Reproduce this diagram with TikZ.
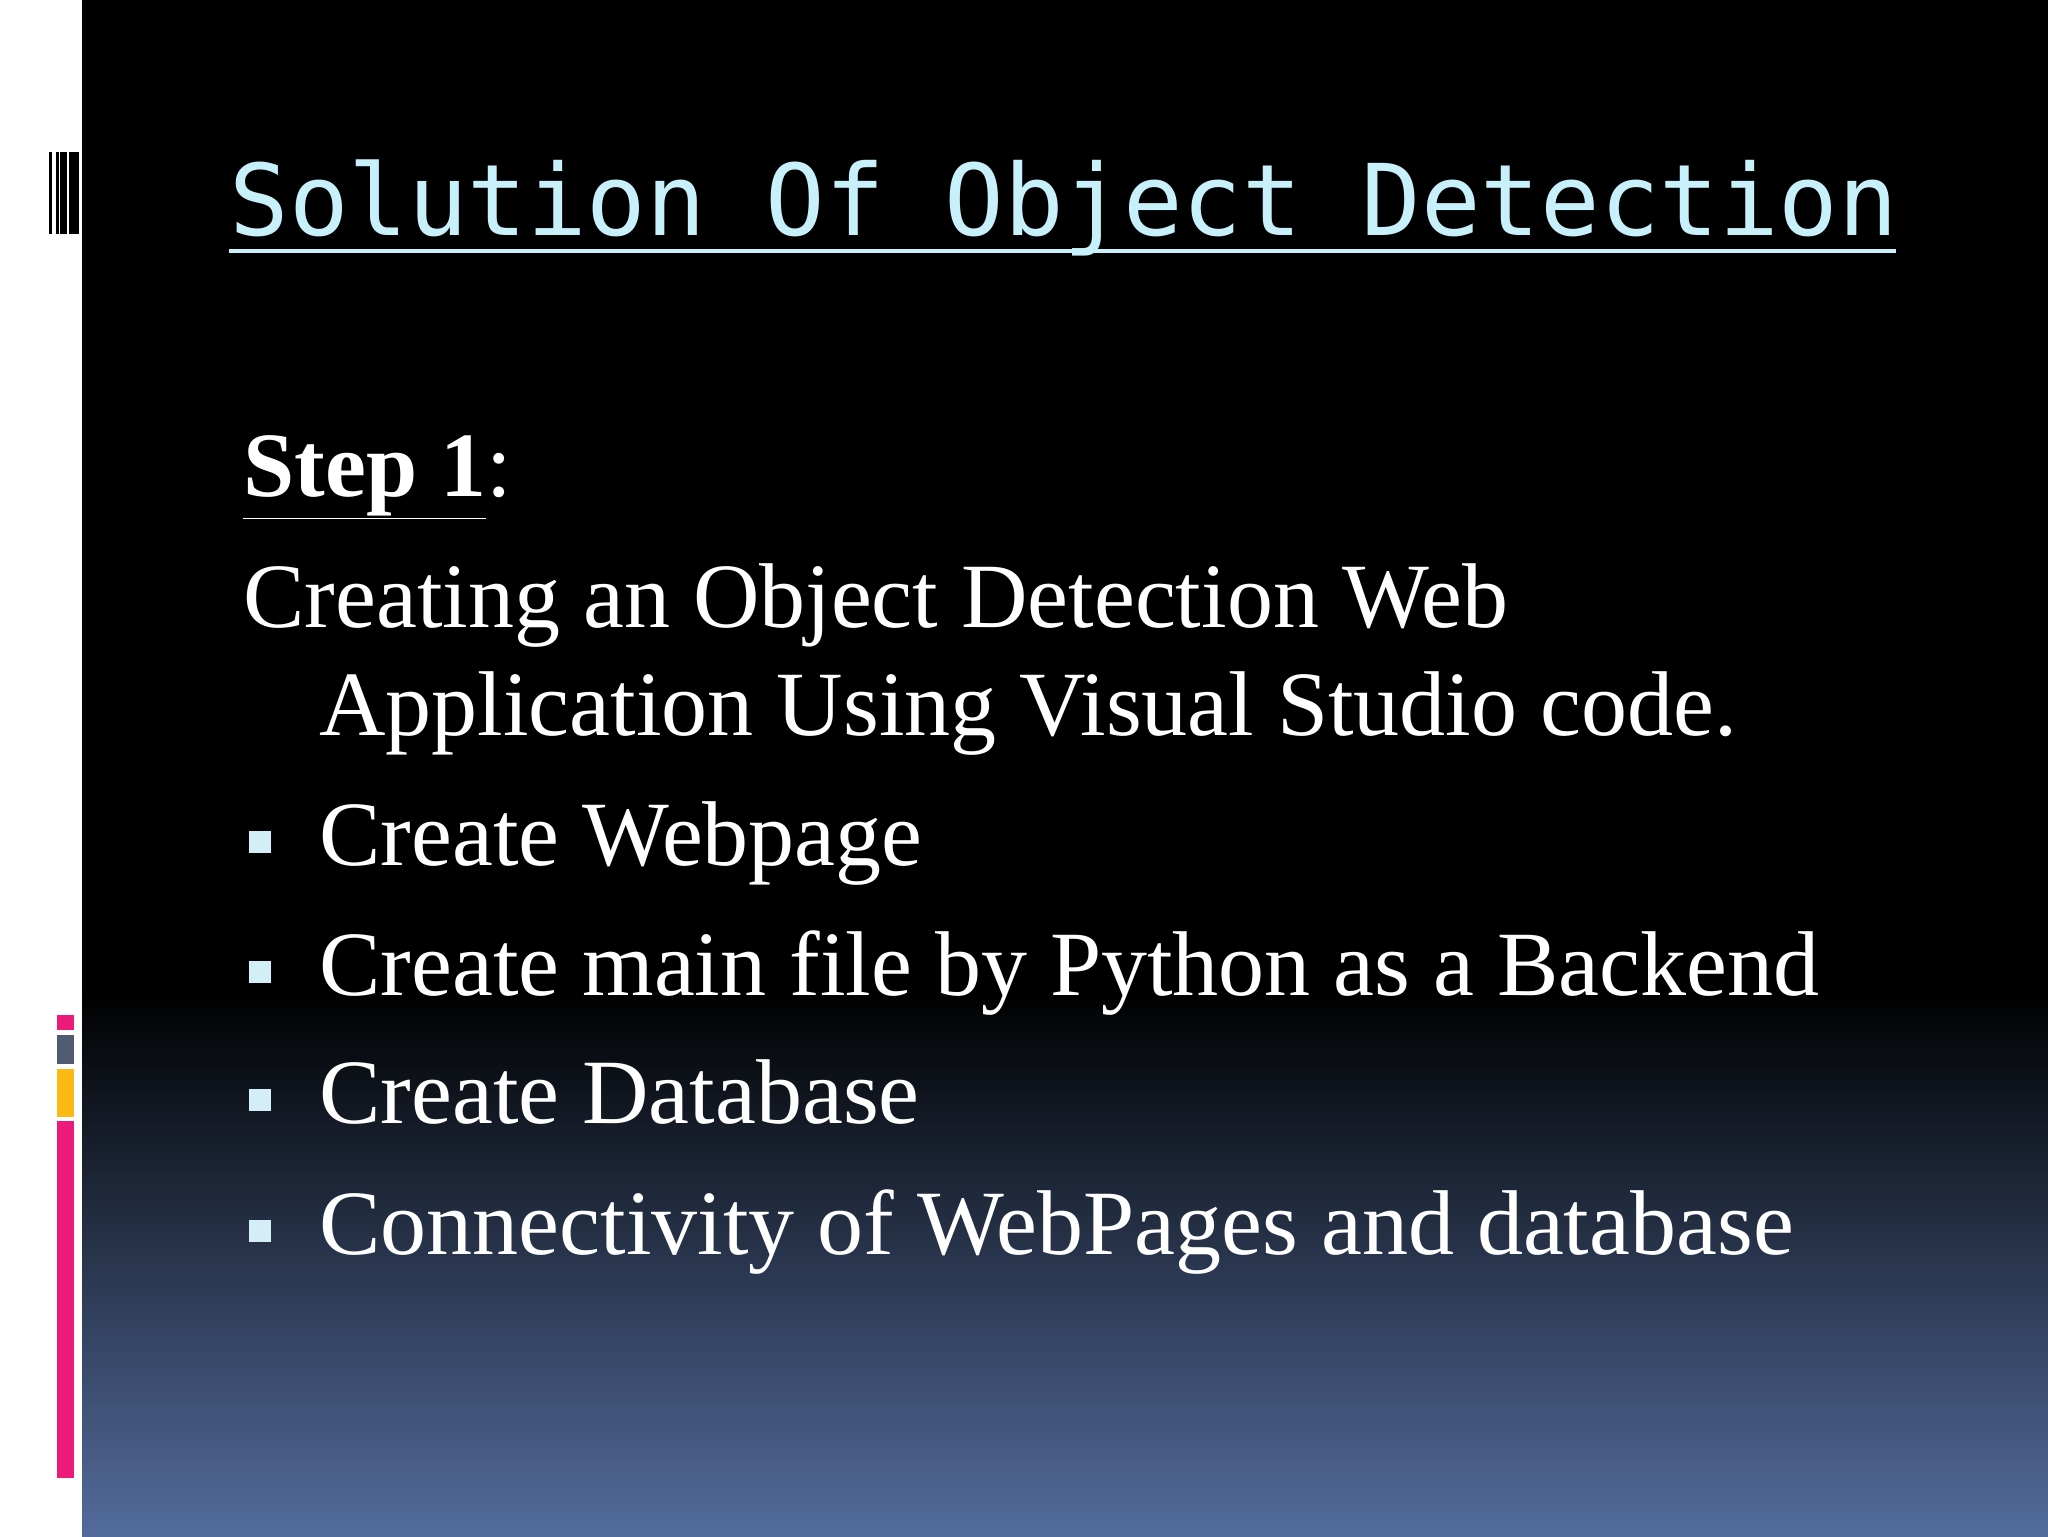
\documentclass[tikz,border=0pt]{standalone}
\usepackage{fontspec}
\setmainfont{Liberation Serif}
\newfontfamily\titlefont{DejaVu Sans Mono}
\begin{document}
\begin{tikzpicture}[x=0.5pt,y=-0.5pt,
  body/.style={anchor=base west,inner sep=0,text=white,font=\fontsize{46}{50}\selectfont},
  bul/.style={fill=bulc}]
\definecolor{titlec}{HTML}{C8F0FA}
\definecolor{bulc}{HTML}{D4EEF8}
\definecolor{pinkc}{HTML}{EC1A7A}
\definecolor{grayc}{HTML}{515B72}
\definecolor{yelc}{HTML}{FCB813}
\definecolor{bluec}{HTML}{536C9C}
\useasboundingbox (0,0) rectangle (2048,1536);
\fill[white] (0,0) rectangle (2048,1536);
\fill[black] (82,0) rectangle (2048,990);
\shade[top color=black,bottom color=bluec] (82,990) rectangle (2048,1536);
% barcode
\fill[black] (49,152) rectangle (52,234);
\fill[black] (56,152) rectangle (59,234);
\fill[black] (60,152) rectangle (67,234);
\fill[black] (69,152) rectangle (79,234);
% color strip
\fill[pinkc] (57,1015) rectangle (74,1030);
\fill[grayc] (57,1035) rectangle (74,1064);
\fill[yelc] (57,1069) rectangle (74,1117);
\fill[pinkc] (57,1121) rectangle (74,1478);
% title
\node[anchor=base west,inner sep=0,text=titlec,font=\titlefont\fontsize{49.5}{55}\selectfont] (title) at (229,235) {Solution Of Object Detection};
\draw[titlec,line width=2pt] (title.base west)++(0,16) -- ++(1667,0);
% body
\node[body] (s1) at (243,496) {\textbf{\underline{Step 1}}:};
\node[body] (l1) at (243,627) {Creating an Object Detection Web};
\node[body] (l2) at (319,735) {Application Using Visual Studio code.};
\node[body] (b1) at (319,865) {Create Webpage};
\node[body] (b2) at (319,995) {Create main file by Python as a Backend};
\node[body] (b3) at (319,1123) {Create Database};
\node[body] (b4) at (319,1254) {Connectivity of WebPages and database};
\foreach \y in {865,995,1123,1254}{\fill[bulc] (249,\y-12) rectangle (271,\y-34);}
\end{tikzpicture}
\end{document}
